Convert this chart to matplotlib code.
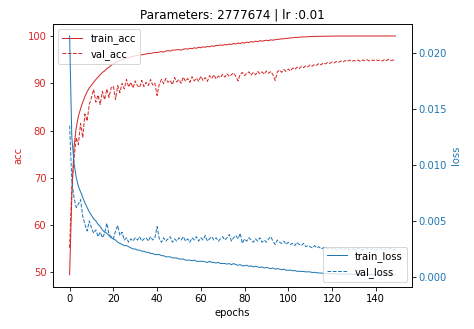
import matplotlib
matplotlib.use("Agg")
import matplotlib.pyplot as plt
import numpy as np

title = "Parameters: 2777674 | lr :0.01"

# accuracy per epoch
train_acc = [
    49.5, 66.0, 76.5, 80.5, 83.0, 84.6, 86.0, 87.2, 88.2, 89.0,
    89.6, 90.2, 90.8, 91.3, 91.8, 92.3, 92.6, 93.1, 93.4, 93.8,
    94.1, 94.4, 94.6, 94.8, 95.0, 95.1, 95.3, 95.4, 95.6, 95.7,
    95.8, 95.9, 96.0, 96.0, 96.1, 96.2, 96.3, 96.3, 96.4, 96.5,
    96.5, 96.6, 96.7, 96.6, 96.8, 96.9, 96.8, 97.0, 97.0, 97.1,
    97.1, 97.0, 97.2, 97.3, 97.2, 97.4, 97.3, 97.5, 97.4, 97.6,
    97.5, 97.7, 97.6, 97.8, 97.7, 97.9, 97.8, 98.0, 98.0, 98.1,
    98.0, 98.2, 98.1, 98.3, 98.2, 98.4, 98.3, 98.5, 98.4, 98.6,
    98.5, 98.7, 98.6, 98.8, 98.7, 98.9, 98.8, 99.0, 98.9, 99.0,
    99.1, 99.0, 99.2, 99.1, 99.2, 99.3, 99.3, 99.4, 99.4, 99.5,
    99.5, 99.6, 99.6, 99.7, 99.7, 99.7, 99.8, 99.8, 99.8, 99.85,
    99.85, 99.9, 99.9, 99.9, 99.92, 99.93, 99.94, 99.95, 99.96, 99.96,
    99.97, 99.97, 99.98, 99.98, 99.98, 99.99, 99.99, 99.99, 99.99, 100.0,
    100.0, 100.0, 100.0, 100.0, 100.0, 100.0, 100.0, 100.0, 100.0, 100.0,
    100.0, 100.0, 100.0, 100.0, 100.0, 100.0, 100.0, 100.0, 100.0, 100.0,
]
val_acc = [
    55.2, 68.0, 74.0, 78.5, 77.0, 81.5, 78.5, 83.5, 82.0, 85.5,
    87.0, 88.7, 86.0, 87.5, 85.5, 88.3, 86.5, 88.8, 87.0, 89.0,
    89.4, 86.6, 89.5, 88.0, 90.0, 88.8, 90.8, 89.2, 90.2, 89.0,
    90.5, 89.5, 89.1, 90.6, 89.3, 90.2, 89.5, 90.8, 89.6, 90.0,
    87.4, 89.8, 90.8, 89.9, 91.0, 90.2, 90.6, 89.7, 91.2, 90.3,
    90.8, 90.0, 91.3, 90.4, 91.0, 90.2, 91.4, 90.5, 91.1, 90.4,
    91.5, 90.6, 91.2, 90.4, 91.6, 91.0, 91.8, 90.9, 91.5, 91.2,
    91.9, 91.3, 92.0, 91.4, 91.8, 92.2, 91.5, 90.5, 91.9, 92.3,
    91.6, 92.1, 92.4, 91.7, 92.3, 91.8, 92.5, 92.0, 92.4, 91.9,
    92.6, 92.1, 92.5, 91.8, 90.6, 92.4, 92.8, 92.3, 92.9, 92.5,
    93.0, 92.6, 93.2, 92.9, 93.4, 93.1, 93.6, 93.3, 93.7, 93.5,
    93.9, 93.6, 94.0, 93.8, 94.2, 93.9, 94.3, 94.1, 94.4, 94.2,
    94.5, 94.3, 94.6, 94.4, 94.7, 94.5, 94.8, 94.6, 94.9, 94.6,
    94.8, 94.7, 94.9, 94.6, 94.9, 94.8, 95.0, 94.7, 94.9, 94.8,
    95.0, 94.8, 94.9, 94.7, 95.0, 94.8, 95.1, 94.8, 94.9, 94.8,
]

# loss per epoch
train_loss = [
    0.0215, 0.0125, 0.0102, 0.0089, 0.0081, 0.0076, 0.0071, 0.0066, 0.0062, 0.0058,
    0.0055, 0.0052, 0.0050, 0.0047, 0.0045, 0.0042, 0.0040, 0.0039, 0.0037, 0.0035,
    0.0034, 0.0033, 0.0031, 0.0030, 0.0029, 0.0028, 0.0028, 0.0027, 0.0026, 0.0025,
    0.0025, 0.0024, 0.0024, 0.0023, 0.0023, 0.0022, 0.0022, 0.0021, 0.0021, 0.0020,
    0.0020, 0.0020, 0.0019, 0.0019, 0.0018, 0.0018, 0.0018, 0.0017, 0.0017, 0.0017,
    0.0016, 0.0016, 0.0016, 0.0015, 0.0015, 0.0015, 0.00145, 0.0015, 0.0014, 0.0014,
    0.0014, 0.0014, 0.00135, 0.0013, 0.0014, 0.0013, 0.0013, 0.00125, 0.0013, 0.0012,
    0.0012, 0.0012, 0.00115, 0.0012, 0.0011, 0.0012, 0.0011, 0.00105, 0.0011, 0.0010,
    0.0010, 0.00105, 0.00095, 0.0010, 0.0009, 0.00095, 0.0009, 0.00085, 0.0009, 0.0008,
    0.00085, 0.0008, 0.00075, 0.0008, 0.0007, 0.00075, 0.0007, 0.00065, 0.0007, 0.0006,
    0.0006, 0.00062, 0.00055, 0.00058, 0.0005, 0.00052, 0.00048, 0.0005, 0.00045, 0.00047,
    0.00045, 0.0004, 0.00042, 0.00038, 0.00036, 0.00035, 0.00033, 0.00032, 0.0003, 0.0003,
    0.00029, 0.00028, 0.00028, 0.00027, 0.00027, 0.00026, 0.00026, 0.00025, 0.00025, 0.00025,
    0.00024, 0.00024, 0.00023, 0.00023, 0.00023, 0.00022, 0.00022, 0.00022, 0.00021, 0.00021,
    0.00021, 0.00021, 0.0002, 0.0002, 0.0002, 0.0002, 0.0002, 0.0002, 0.0002, 0.0002,
]
val_loss = [
    0.0135, 0.0086, 0.0071, 0.0062, 0.0065, 0.0069, 0.0054, 0.0047, 0.0041, 0.0050,
    0.0044, 0.0039, 0.0042, 0.0036, 0.0040, 0.0035, 0.0039, 0.0048, 0.0038, 0.0036,
    0.0034, 0.0041, 0.0046, 0.0037, 0.0040, 0.0033, 0.0035, 0.0031, 0.0034, 0.0032,
    0.0035, 0.0033, 0.0036, 0.0032, 0.0034, 0.0035, 0.0032, 0.0036, 0.0033, 0.0035,
    0.0045, 0.0034, 0.0031, 0.0035, 0.0032, 0.0034, 0.0036, 0.0031, 0.0034, 0.0032,
    0.0035, 0.0033, 0.0036, 0.0032, 0.0034, 0.0031, 0.0035, 0.0033, 0.0036, 0.0032,
    0.0035, 0.0033, 0.0037, 0.0032, 0.0034, 0.0036, 0.0033, 0.0035, 0.0032, 0.0034,
    0.0036, 0.0033, 0.0035, 0.0038, 0.0032, 0.0035, 0.0037, 0.0034, 0.0039, 0.0030,
    0.0034, 0.0032, 0.0035, 0.0033, 0.0031, 0.0034, 0.0032, 0.0035, 0.0031, 0.0033,
    0.0031, 0.0034, 0.0036, 0.0032, 0.0029, 0.0033, 0.0031, 0.0030, 0.0032, 0.0029,
    0.0031, 0.0029, 0.0030, 0.0028, 0.0031, 0.0029, 0.0028, 0.0030, 0.0027, 0.0028,
    0.0027, 0.0026, 0.0028, 0.0026, 0.0027, 0.0025, 0.0026, 0.0027, 0.0025, 0.0026,
    0.0025, 0.0026, 0.0024, 0.0025, 0.0026, 0.0024, 0.0025, 0.0026, 0.0024, 0.0025,
    0.0025, 0.0024, 0.0026, 0.0025, 0.0024, 0.0025, 0.0026, 0.0024, 0.0025, 0.0025,
    0.0024, 0.0025, 0.0026, 0.0024, 0.0025, 0.0024, 0.0025, 0.0026, 0.0024, 0.0025,
]

epochs = np.arange(len(train_acc))

fig, ax1 = plt.subplots(figsize=(474 / 72, 329 / 72), dpi=72)
fig.subplots_adjust(left=0.1125, right=0.8686, top=0.927, bottom=0.1286)

color = "tab:red"
ax1.set_xlabel("epochs")
ax1.set_ylabel("acc", color=color)
ax1.plot(epochs, train_acc, color=color, linestyle="-", linewidth=1, label="train_acc")
ax1.plot(epochs, val_acc, color=color, linestyle="--", linewidth=1, label="val_acc")
ax1.tick_params(axis="y", labelcolor=color)
ax1.legend(loc="upper left")

ax2 = ax1.twinx()
color = "tab:blue"
ax2.set_ylabel("loss", color=color)
ax2.plot(epochs, train_loss, color=color, linestyle="-", linewidth=1, label="train_loss")
ax2.plot(epochs, val_loss, color=color, linestyle="--", linewidth=1, label="val_loss")
ax2.tick_params(axis="y", labelcolor=color)
ax2.legend(loc="lower right")

ax1.set_title(title)

fig.savefig("out.png", dpi=72)
